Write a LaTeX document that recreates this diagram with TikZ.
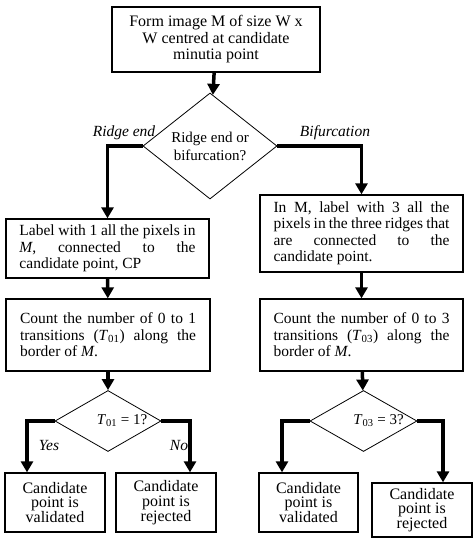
\documentclass[tikz,border=0pt]{standalone}
\usepackage{fontspec}
\setmainfont{Liberation Serif}
\usetikzlibrary{shapes.geometric,arrows.meta}

\begin{document}
\begin{tikzpicture}[x=1pt,y=-1pt]
\tikzset{box/.style={draw,line width=1.3pt,inner sep=0pt,align=center,font=\fontsize{16}{14.8}\selectfont},
  stepbox/.style={box,text width=176pt,align=justify,font=\fontsize{15.5}{16.5}\selectfont},
  test/.style={draw,diamond,line width=0.8pt,inner sep=0pt,aspect=1.8},
  flow/.style={line width=3.5pt,-{Triangle[length=11pt,width=12pt]}},
  branch/.style={font=\itshape\fontsize{15.5}{17}\selectfont}}
\useasboundingbox (0,0) rectangle (474,540);
\node[box,minimum width=208pt,minimum height=65pt,font=\fontsize{16}{16.5}\selectfont] (form) at (216,39.5) {Form image M of size W x\\W centred at candidate\\minutia point};
\node[test,aspect=1.3,minimum width=134pt,minimum height=106pt,font=\fontsize{15}{18}\selectfont,align=center] (kind) at (210,146) {Ridge end or\\bifurcation?};
\node[stepbox,minimum width=203pt,minimum height=59pt] (label1) at (107.5,248.5) {Label with 1 all the pixels in\linebreak \textit{M}, connected to the\linebreak candidate point, CP};
\node[stepbox,minimum width=203pt,minimum height=77pt] (label3) at (361.5,233.5) {In M, label with 3 all the\linebreak pixels in the three ridges that\linebreak are connected to the\linebreak candidate point.};
\node[stepbox,minimum width=204pt,minimum height=72pt] (count1) at (108,335) {Count the number of 0 to 1\linebreak transitions (\textit{T}\textsubscript{01}) along the\linebreak border of \textit{M}.};
\node[stepbox,minimum width=203pt,minimum height=72pt] (count3) at (361.5,335) {Count the number of 0 to 3\linebreak transitions (\textit{T}\textsubscript{03}) along the\linebreak border of \textit{M}.};
\node[test,minimum width=106pt,minimum height=61pt,label={[xshift=14pt,font=\fontsize{15}{16}\selectfont]center:\textit{T}\textsubscript{01} = 1?}] (t01) at (108,421) {};
\node[test,minimum width=107pt,minimum height=61pt,label={[xshift=15pt,font=\fontsize{15}{16}\selectfont]center:\textit{T}\textsubscript{03} = 3?}] (t03) at (363.5,421) {};
\node[box,minimum width=100pt,minimum height=59pt] (ok1) at (55,502.5) {Candidate\\point is\\validated};
\node[box,minimum width=100pt,minimum height=59pt] (no1) at (166,502.5) {Candidate\\point is\\rejected};
\node[box,minimum width=99pt,minimum height=59pt] (ok3) at (308.5,502.5) {Candidate\\point is\\validated};
\node[box,minimum width=100pt,minimum height=54pt] (no3) at (422,510) {Candidate\\point is\\rejected};
\node[branch] (ridge) at (124,133) {Ridge end};
\node[branch] (bif) at (335,133) {Bifurcation};
\node[branch] (yes) at (49,445) {Yes};
\node[branch] (no) at (179,445) {No};
\draw[flow] (form) -- (kind);
\draw[flow] (kind.west) -| (label1.north);
\draw[flow] (kind.east) -| (label3.north);
\draw[flow] (label1) -- (count1);
\draw[flow] (label3) -- (count3);
\draw[flow] (count1) -- (t01);
\draw[flow] (count3) -- (t03);
\draw[flow] (t01.west) -| ([xshift=-28pt]ok1.north);
\draw[flow] (t01.east) -| ([xshift=24pt]no1.north);
\draw[flow] (t03.west) -| ([xshift=-26.5pt]ok3.north);
\draw[flow] (t03.east) -| ([xshift=21pt]no3.north);
\end{tikzpicture}
\end{document}
